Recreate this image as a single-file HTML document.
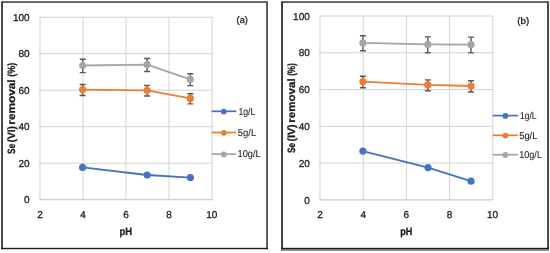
<!DOCTYPE html>
<html><head><meta charset="utf-8"><title>Se removal vs pH</title>
<style>
html,body{margin:0;padding:0;background:#fff;}
body{width:550px;height:253px;overflow:hidden;}
svg{display:block;}
text{font-family:"Liberation Sans", Arial, sans-serif;fill:#1e1e1e;stroke:#1e1e1e;stroke-width:0.3px;stroke-linejoin:round;text-rendering:geometricPrecision;}
.b{font-weight:bold;}
</style></head><body>
<svg width="550" height="253" viewBox="0 0 550 253">
<defs><filter id="soft" x="0" y="0" width="100%" height="100%"><feGaussianBlur stdDeviation="0.35"/></filter></defs>
<rect width="550" height="253" fill="#fff"/>
<g filter="url(#soft)">
<rect width="550" height="253" fill="#fff"/>
<rect x="1" y="1.2" width="267" height="1.7" fill="#4d4d4d"/>
<rect x="1.1" y="1.2" width="1.9" height="248" fill="#434343"/>
<rect x="266.1" y="1.2" width="1.9" height="248" fill="#555"/>
<rect x="1" y="247.8" width="267" height="1.4" fill="#1e1e1e"/>
<line x1="40" x2="40" y1="17.2" y2="199.7" stroke="#d3d3d3" stroke-width="1.0"/>
<line x1="83" x2="83" y1="17.2" y2="199.7" stroke="#d3d3d3" stroke-width="1.0"/>
<line x1="126" x2="126" y1="17.2" y2="199.7" stroke="#d3d3d3" stroke-width="1.0"/>
<line x1="169" x2="169" y1="17.2" y2="199.7" stroke="#d3d3d3" stroke-width="1.0"/>
<line x1="212" x2="212" y1="17.2" y2="199.7" stroke="#d3d3d3" stroke-width="1.0"/>
<line x1="39.4" x2="212.6" y1="199.7" y2="199.7" stroke="#cbcbcb" stroke-width="1.3"/>
<line x1="39.4" x2="212.6" y1="163.2" y2="163.2" stroke="#d3d3d3" stroke-width="1.0"/>
<line x1="39.4" x2="212.6" y1="126.7" y2="126.7" stroke="#d3d3d3" stroke-width="1.0"/>
<line x1="39.4" x2="212.6" y1="90.2" y2="90.2" stroke="#d3d3d3" stroke-width="1.0"/>
<line x1="39.4" x2="212.6" y1="53.7" y2="53.7" stroke="#d3d3d3" stroke-width="1.0"/>
<line x1="39.4" x2="212.6" y1="17.2" y2="17.2" stroke="#d3d3d3" stroke-width="1.0"/>
<text x="24.03" y="203.4" font-size="10.0" class="t" textLength="5.56" lengthAdjust="spacingAndGlyphs">0</text>
<text x="18.47" y="166.9" font-size="10.0" class="t" textLength="11.12" lengthAdjust="spacingAndGlyphs">20</text>
<text x="18.47" y="130.4" font-size="10.0" class="t" textLength="11.12" lengthAdjust="spacingAndGlyphs">40</text>
<text x="18.47" y="93.9" font-size="10.0" class="t" textLength="11.12" lengthAdjust="spacingAndGlyphs">60</text>
<text x="18.47" y="57.4" font-size="10.0" class="t" textLength="11.12" lengthAdjust="spacingAndGlyphs">80</text>
<text x="12.91" y="20.9" font-size="10.0" class="t" textLength="16.68" lengthAdjust="spacingAndGlyphs">100</text>
<text x="37.22" y="217.8" font-size="10.0" class="t" textLength="5.56" lengthAdjust="spacingAndGlyphs">2</text>
<text x="80.25" y="217.8" font-size="10.0" class="t" textLength="5.56" lengthAdjust="spacingAndGlyphs">4</text>
<text x="123.19" y="217.8" font-size="10.0" class="t" textLength="5.56" lengthAdjust="spacingAndGlyphs">6</text>
<text x="166.22" y="217.8" font-size="10.0" class="t" textLength="5.56" lengthAdjust="spacingAndGlyphs">8</text>
<text x="206.25" y="217.8" font-size="10.0" class="t" textLength="11.12" lengthAdjust="spacingAndGlyphs">10</text>
<text x="119.53" y="234.7" font-size="10.6" class="b" textLength="12.56" lengthAdjust="spacingAndGlyphs">pH</text>
<text transform="translate(15.1,153.65) rotate(-90)" x="-0.24" y="0" font-size="10.6" class="b" textLength="10.12" lengthAdjust="spacingAndGlyphs">Se</text>
<text transform="translate(15.1,141.85) rotate(-90)" x="-0.5" y="0" font-size="10.6" class="b" textLength="16.2" lengthAdjust="spacingAndGlyphs">(VI)</text>
<text transform="translate(15.1,123.95) rotate(-90)" x="-0.78" y="0" font-size="10.6" class="b" textLength="45.32" lengthAdjust="spacingAndGlyphs">removal</text>
<text transform="translate(15.1,76.25) rotate(-90)" x="-0.45" y="0" font-size="10.6" class="b" textLength="14" lengthAdjust="spacingAndGlyphs">(%)</text>
<text x="236.58" y="23" font-size="9.5" class="t" textLength="11.24" lengthAdjust="spacingAndGlyphs">(a)</text>
<path d="M82.7,65.5 L147.1,64.6 L190.3,79.3" fill="none" stroke="#a5a5a5" stroke-width="1.8" stroke-linejoin="round"/>
<path d="M82.7,59.2 V72.6 M79.7,59.2 H85.7 M79.7,72.6 H85.7" stroke="#595959" stroke-width="1.4" fill="none"/>
<path d="M147.1,58.45 V71.55 M144.1,58.45 H150.1 M144.1,71.55 H150.1" stroke="#595959" stroke-width="1.4" fill="none"/>
<path d="M190.3,73.8 V85.6 M187.3,73.8 H193.3 M187.3,85.6 H193.3" stroke="#595959" stroke-width="1.4" fill="none"/>
<circle cx="82.7" cy="65.5" r="3.6" fill="#a5a5a5"/>
<circle cx="147.1" cy="64.6" r="3.6" fill="#a5a5a5"/>
<circle cx="190.3" cy="79.3" r="3.6" fill="#a5a5a5"/>
<path d="M82.6,89.6 L147.1,90.3 L190.3,98.4" fill="none" stroke="#ed7d31" stroke-width="1.8" stroke-linejoin="round"/>
<path d="M82.6,84.55 V95.45 M79.6,84.55 H85.6 M79.6,95.45 H85.6" stroke="#595959" stroke-width="1.4" fill="none"/>
<path d="M147.1,85.4 V96 M144.1,85.4 H150.1 M144.1,96 H150.1" stroke="#595959" stroke-width="1.4" fill="none"/>
<path d="M190.3,93.7 V103.9 M187.3,93.7 H193.3 M187.3,103.9 H193.3" stroke="#595959" stroke-width="1.4" fill="none"/>
<circle cx="82.6" cy="89.6" r="3.6" fill="#ed7d31"/>
<circle cx="147.1" cy="90.3" r="3.6" fill="#ed7d31"/>
<circle cx="190.3" cy="98.4" r="3.6" fill="#ed7d31"/>
<path d="M82.6,167.4 L147.2,175 L190.4,177.6" fill="none" stroke="#4472c4" stroke-width="1.8" stroke-linejoin="round"/>
<circle cx="82.6" cy="167.4" r="3.6" fill="#4472c4"/>
<circle cx="147.2" cy="175" r="3.6" fill="#4472c4"/>
<circle cx="190.4" cy="177.6" r="3.6" fill="#4472c4"/>
<line x1="211.6" x2="236.2" y1="111.3" y2="111.3" stroke="#4472c4" stroke-width="1.7"/>
<circle cx="223.8" cy="111.6" r="2.9" fill="#4472c4"/>
<text x="238.38" y="114.6" font-size="10.0" class="t" textLength="17.06" lengthAdjust="spacingAndGlyphs" style="stroke-width:0.1px">1g/L</text>
<line x1="211.6" x2="236.2" y1="132.5" y2="132.5" stroke="#ed7d31" stroke-width="1.7"/>
<circle cx="223.8" cy="132.8" r="2.9" fill="#ed7d31"/>
<text x="237.87" y="135.8" font-size="10.0" class="t" textLength="18.29" lengthAdjust="spacingAndGlyphs" style="stroke-width:0.1px">5g/L</text>
<line x1="211.6" x2="236.2" y1="154.1" y2="154.1" stroke="#a5a5a5" stroke-width="1.7"/>
<circle cx="223.8" cy="154.4" r="2.9" fill="#a5a5a5"/>
<text x="237.54" y="157.4" font-size="10.0" class="t" textLength="23.21" lengthAdjust="spacingAndGlyphs" style="stroke-width:0.1px">10g/L</text>
<rect x="281" y="1.2" width="268" height="1.7" fill="#4d4d4d"/>
<rect x="281.1" y="1.2" width="1.9" height="248" fill="#393939"/>
<rect x="547.1" y="1.2" width="1.9" height="248" fill="#404040"/>
<rect x="281" y="249.2" width="268" height="1.6" fill="#7a7a7a"/>
<rect x="281" y="247.8" width="268" height="1.4" fill="#1e1e1e"/>
<line x1="320" x2="320" y1="16" y2="199.9" stroke="#d3d3d3" stroke-width="1.0"/>
<line x1="363.2" x2="363.2" y1="16" y2="199.9" stroke="#d3d3d3" stroke-width="1.0"/>
<line x1="406.4" x2="406.4" y1="16" y2="199.9" stroke="#d3d3d3" stroke-width="1.0"/>
<line x1="449.6" x2="449.6" y1="16" y2="199.9" stroke="#d3d3d3" stroke-width="1.0"/>
<line x1="492.8" x2="492.8" y1="16" y2="199.9" stroke="#d3d3d3" stroke-width="1.0"/>
<line x1="319.4" x2="493.4" y1="199.9" y2="199.9" stroke="#cbcbcb" stroke-width="1.3"/>
<line x1="319.4" x2="493.4" y1="163.12" y2="163.12" stroke="#d3d3d3" stroke-width="1.0"/>
<line x1="319.4" x2="493.4" y1="126.34" y2="126.34" stroke="#d3d3d3" stroke-width="1.0"/>
<line x1="319.4" x2="493.4" y1="89.56" y2="89.56" stroke="#d3d3d3" stroke-width="1.0"/>
<line x1="319.4" x2="493.4" y1="52.78" y2="52.78" stroke="#d3d3d3" stroke-width="1.0"/>
<line x1="319.4" x2="493.4" y1="16" y2="16" stroke="#d3d3d3" stroke-width="1.0"/>
<text x="304.23" y="203.6" font-size="10.0" class="t" textLength="5.56" lengthAdjust="spacingAndGlyphs">0</text>
<text x="298.67" y="166.82" font-size="10.0" class="t" textLength="11.12" lengthAdjust="spacingAndGlyphs">20</text>
<text x="298.67" y="130.04" font-size="10.0" class="t" textLength="11.12" lengthAdjust="spacingAndGlyphs">40</text>
<text x="298.67" y="93.26" font-size="10.0" class="t" textLength="11.12" lengthAdjust="spacingAndGlyphs">60</text>
<text x="298.67" y="56.48" font-size="10.0" class="t" textLength="11.12" lengthAdjust="spacingAndGlyphs">80</text>
<text x="293.11" y="19.7" font-size="10.0" class="t" textLength="16.68" lengthAdjust="spacingAndGlyphs">100</text>
<text x="317.22" y="217.9" font-size="10.0" class="t" textLength="5.56" lengthAdjust="spacingAndGlyphs">2</text>
<text x="360.45" y="217.9" font-size="10.0" class="t" textLength="5.56" lengthAdjust="spacingAndGlyphs">4</text>
<text x="403.59" y="217.9" font-size="10.0" class="t" textLength="5.56" lengthAdjust="spacingAndGlyphs">6</text>
<text x="446.82" y="217.9" font-size="10.0" class="t" textLength="5.56" lengthAdjust="spacingAndGlyphs">8</text>
<text x="487.05" y="217.9" font-size="10.0" class="t" textLength="11.12" lengthAdjust="spacingAndGlyphs">10</text>
<text x="400.25" y="235" font-size="10.6" class="b" textLength="12.22" lengthAdjust="spacingAndGlyphs">pH</text>
<text transform="translate(294.8,152.85) rotate(-90)" x="-0.24" y="0" font-size="10.6" class="b" textLength="10.12" lengthAdjust="spacingAndGlyphs">Se</text>
<text transform="translate(294.8,141.05) rotate(-90)" x="-0.53" y="0" font-size="10.6" class="b" textLength="17.05" lengthAdjust="spacingAndGlyphs">(IV)</text>
<text transform="translate(294.8,121.95) rotate(-90)" x="-0.76" y="0" font-size="10.6" class="b" textLength="44.38" lengthAdjust="spacingAndGlyphs">removal</text>
<text transform="translate(294.8,75.45) rotate(-90)" x="-0.4" y="0" font-size="10.6" class="b" textLength="12.61" lengthAdjust="spacingAndGlyphs">(%)</text>
<text x="517.25" y="23.5" font-size="9.5" class="t" textLength="11.91" lengthAdjust="spacingAndGlyphs">(b)</text>
<path d="M362.9,42.9 L427.8,44.4 L471,44.6" fill="none" stroke="#a5a5a5" stroke-width="1.8" stroke-linejoin="round"/>
<path d="M362.9,35.8 V50.8 M359.9,35.8 H365.9 M359.9,50.8 H365.9" stroke="#595959" stroke-width="1.4" fill="none"/>
<path d="M427.8,36.9 V52.7 M424.8,36.9 H430.8 M424.8,52.7 H430.8" stroke="#595959" stroke-width="1.4" fill="none"/>
<path d="M471,37.15 V52.85 M468,37.15 H474 M468,52.85 H474" stroke="#595959" stroke-width="1.4" fill="none"/>
<circle cx="362.9" cy="42.9" r="3.6" fill="#a5a5a5"/>
<circle cx="427.8" cy="44.4" r="3.6" fill="#a5a5a5"/>
<circle cx="471" cy="44.6" r="3.6" fill="#a5a5a5"/>
<path d="M362.9,81.6 L427.8,84.9 L471,86" fill="none" stroke="#ed7d31" stroke-width="1.8" stroke-linejoin="round"/>
<path d="M362.9,76.25 V87.75 M359.9,76.25 H365.9 M359.9,87.75 H365.9" stroke="#595959" stroke-width="1.4" fill="none"/>
<path d="M427.8,79.85 V90.75 M424.8,79.85 H430.8 M424.8,90.75 H430.8" stroke="#595959" stroke-width="1.4" fill="none"/>
<path d="M471,80.8 V92 M468,80.8 H474 M468,92 H474" stroke="#595959" stroke-width="1.4" fill="none"/>
<circle cx="362.9" cy="81.6" r="3.6" fill="#ed7d31"/>
<circle cx="427.8" cy="84.9" r="3.6" fill="#ed7d31"/>
<circle cx="471" cy="86" r="3.6" fill="#ed7d31"/>
<path d="M362.9,151.1 L428,167.6 L471,181.2" fill="none" stroke="#4472c4" stroke-width="1.8" stroke-linejoin="round"/>
<circle cx="362.9" cy="151.1" r="3.6" fill="#4472c4"/>
<circle cx="428" cy="167.6" r="3.6" fill="#4472c4"/>
<circle cx="471" cy="181.2" r="3.6" fill="#4472c4"/>
<line x1="492.6" x2="517.9" y1="115.6" y2="115.6" stroke="#4472c4" stroke-width="1.7"/>
<circle cx="505.4" cy="115.9" r="2.9" fill="#4472c4"/>
<text x="520" y="118.9" font-size="10.0" class="t" textLength="16.63" lengthAdjust="spacingAndGlyphs" style="stroke-width:0.1px">1g/L</text>
<line x1="492.6" x2="517.9" y1="135.3" y2="135.3" stroke="#ed7d31" stroke-width="1.7"/>
<circle cx="505.4" cy="135.6" r="2.9" fill="#ed7d31"/>
<text x="519.17" y="138.6" font-size="10.0" class="t" textLength="18.29" lengthAdjust="spacingAndGlyphs" style="stroke-width:0.1px">5g/L</text>
<line x1="492.6" x2="517.9" y1="154.7" y2="154.7" stroke="#a5a5a5" stroke-width="1.7"/>
<circle cx="505.4" cy="155" r="2.9" fill="#a5a5a5"/>
<text x="519.26" y="158" font-size="10.0" class="t" textLength="22.69" lengthAdjust="spacingAndGlyphs" style="stroke-width:0.1px">10g/L</text>
<path d="M1,1.2 H2.3 A1.3,1.3 0 0 0 1,2.5 Z" fill="#fff"/>
<path d="M268,1.2 H266.7 A1.3,1.3 0 0 1 268,2.5 Z" fill="#fff"/>
<path d="M281,1.2 H282.3 A1.3,1.3 0 0 0 281,2.5 Z" fill="#fff"/>
<path d="M549,1.2 H547.7 A1.3,1.3 0 0 1 549,2.5 Z" fill="#fff"/>
</g>
</svg>
</body></html>
